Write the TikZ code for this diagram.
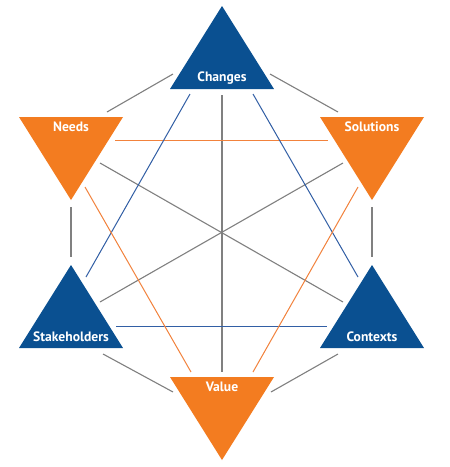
\documentclass[tikz,border=0pt]{standalone}
\usepackage{fontspec}
\setmainfont{PT Sans}
\usetikzlibrary{calc}
\definecolor{triblue}{RGB}{10,80,145}
\definecolor{triorange}{RGB}{243,124,32}
\definecolor{lnblue}{RGB}{50,95,165}
\definecolor{lnorange}{RGB}{242,130,60}
\definecolor{lngray}{RGB}{128,128,128}
\tikzset{
  lbl/.style={text=white,font=\bfseries\fontsize{13.6}{15}\selectfont,inner sep=0pt},
  grayln/.style={draw=lngray,line width=1.1pt},
  blueln/.style={draw=lnblue,line width=1pt},
  orangeln/.style={draw=lnorange,line width=1pt},
  upfill/.style={fill=triblue},
  downfill/.style={fill=triorange}
}
\begin{document}
\begin{tikzpicture}[x=1pt,y=-1pt]
\useasboundingbox[fill=white] (0,0) rectangle (450,467);
% triangles
\fill[upfill] (222,6) -- (274,89) -- (170,89) -- cycle;
\fill[upfill] (71,265) -- (123,348) -- (19,348) -- cycle;
\fill[upfill] (372,265) -- (424,348) -- (320,348) -- cycle;
\fill[downfill] (19,117) -- (123,117) -- (71,200) -- cycle;
\fill[downfill] (320,117) -- (424,117) -- (372,200) -- cycle;
\fill[downfill] (170,377) -- (274,377) -- (222,460) -- cycle;
% labels
\node[lbl] (chg) at (222,78) {Changes};
\node[lbl] (stk) at (71,337) {Stakeholders};
\node[lbl] (ctx) at (372,337) {Contexts};
\node[lbl] (nds) at (71,127) {Needs};
\node[lbl] (sol) at (372,127) {Solutions};
\node[lbl] (val) at (222,387) {Value};
% outer hexagon connectors
\draw[grayln] ($(chg)+(-49,-4)$) -- ($(nds)+(36,-15)$);
\draw[grayln] ($(chg)+(48,-4)$) -- ($(sol)+(-34,-15)$);
\draw[grayln] ($(nds)+(0,80)$) -- ($(stk)+(0,-80)$);
\draw[grayln] ($(sol)+(0,80)$) -- ($(ctx)+(0,-80)$);
\draw[grayln] ($(stk)+(32,17)$) -- ($(val)+(-49,5)$);
\draw[grayln] ($(ctx)+(-34,17)$) -- ($(val)+(49,5)$);
% interior connectors
\draw[grayln] ($(chg)+(0,17)$) -- ($(val)+(0,-15)$);
\draw[grayln] ($(nds)+(29,36)$) -- ($(ctx)+(-29,-35)$);
\draw[grayln] ($(sol)+(-29,36)$) -- ($(stk)+(29,-35)$);
\draw[orangeln] ($(nds)+(44,13)$) -- ($(sol)+(-44,13)$);
\draw[blueln] ($(stk)+(45,-11)$) -- ($(ctx)+(-45,-11)$);
\draw[blueln] ($(chg)+(-32,16)$) -- ($(stk)+(15,-60)$);
\draw[blueln] ($(chg)+(31,16)$) -- ($(ctx)+(-14,-60)$);
\draw[orangeln] ($(nds)+(14,60)$) -- ($(val)+(-31,-15)$);
\draw[orangeln] ($(sol)+(-14,60)$) -- ($(val)+(31,-15)$);
\end{tikzpicture}
\end{document}
